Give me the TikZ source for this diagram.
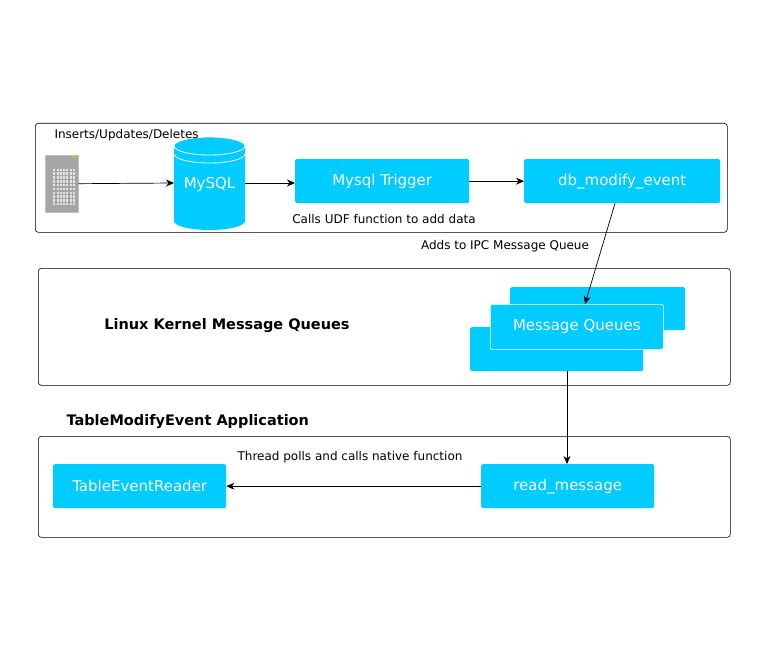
\documentclass[tikz,border=0pt]{standalone}
\usepackage{fontspec}
\setmainfont{DejaVu Sans}
\usetikzlibrary{arrows.meta}
\definecolor{cy}{HTML}{00CCFF}
\begin{document}
\begin{tikzpicture}[x=1pt,y=-1pt,
  grp/.style={draw=black,rounded corners=3pt,line width=0.6pt},
  blk/.style={fill=cy,draw=none,rounded corners=1.5pt,anchor=north west,inner sep=0pt},
  bt/.style={text=white,font=\fontsize{15}{18}\selectfont},
  lbl/.style={font=\fontsize{12}{14}\selectfont},
  arr/.style={-{Stealth[length=8pt,width=7pt]},line width=0.7pt}]
\useasboundingbox (0,0) rectangle (766,658);
% groups
\node[grp,minimum width=692,minimum height=109,anchor=north west] (g1) at (35,123) {};
\node[grp,minimum width=692,minimum height=117,anchor=north west] (g2) at (38,268) {};
\node[grp,minimum width=692,minimum height=101,anchor=north west] (g3) at (38,436) {};
% server icon
\node[fill=gray!70,draw=gray!50,minimum width=33,minimum height=57,anchor=north west,inner sep=0,
  path picture={\foreach \i in {0,...,6}\foreach \j in {0,...,9}{\fill[white!80!gray] ([xshift=8+\i*3.3,yshift=-16-\j*3.8]path picture bounding box.north west) rectangle ++(2,-2.5);}
  \fill[yellow!60!green] ([xshift=-6,yshift=-3]path picture bounding box.north east) rectangle ++(4,-6);}] (srv) at (45,155) {};
% cylinder
\coordinate (db) at (209.5,183);
\fill[cy] (174,146) arc[start angle=180,end angle=360,x radius=35.5,y radius=9] -- (245,221) arc[start angle=0,end angle=180,x radius=35.5,y radius=9] -- cycle;
\draw[white,line width=0.8pt] (174,146) arc[start angle=180,end angle=-180,x radius=35.5,y radius=9];
\draw[white,line width=0.8pt] (174,154) arc[start angle=180,end angle=0,x radius=35.5,y radius=9];
\node[bt] at (209.5,184) {MySQL};
\node[blk,minimum width=174,minimum height=44] (trg) at (295,159) {};
\node[bt] at (trg.center) {Mysql Trigger};
\node[blk,minimum width=196,minimum height=44] (dme) at (524,159) {};
\node[bt] at (dme.center) {db\_modify\_event};
\node[lbl,anchor=west] (t1) at (51,135) {Inserts/Updates/Deletes};
\node[lbl] (t2) at (384,219) {Calls UDF function to add data};
\node[lbl] (t3) at (505,246) {Adds to IPC Message Queue};
\draw[arr] (srv.east) -- (174,183);
\draw[arr] (245,183) -- (trg.west|-0,183);
\draw[arr] (trg.east) -- (dme.west);
% message queues
\node[blk,minimum width=175,minimum height=43] (mq1) at (510,287) {};
\node[blk,minimum width=173,minimum height=44] (mq3) at (470,327) {};
\node[blk,draw=white,line width=0.6pt,minimum width=173,minimum height=45] (mq2) at (490,304) {};
\node[bt] at (mq2.center) {Message Queues};
\node[font=\bfseries\fontsize{14.5}{18}\selectfont] (lk) at (227,326) {Linux Kernel Message Queues};
\draw[arr] (dme.south west)++(91,0) coordinate (c1) -- (585,304);
% app
\node[font=\bfseries\fontsize{14.5}{18}\selectfont,anchor=west] (app) at (63,422) {TableModifyEvent Application};
\node[blk,minimum width=173,minimum height=44] (ter) at (53,464) {};
\node[bt] at (ter.center) {TableEventReader};
\node[blk,minimum width=173,minimum height=44] (rm) at (481,464) {};
\node[bt] at (rm.center) {read\_message};
\draw[arr] (567,371) -- (rm.north-|567,0);
\draw[arr] (rm.west) -- (ter.east);
\node[lbl] (t4) at (350,457) {Thread polls and calls native function};
\end{tikzpicture}
\end{document}
